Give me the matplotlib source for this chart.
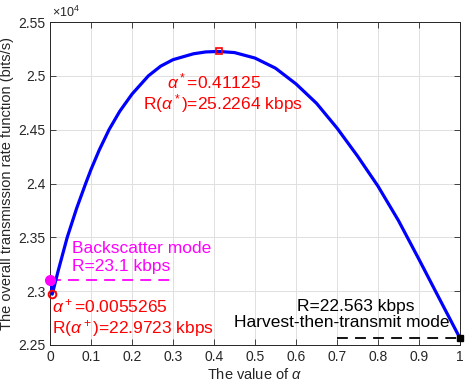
import matplotlib
matplotlib.use("Agg")
import matplotlib.pyplot as plt
from matplotlib.ticker import FuncFormatter

plt.rcParams["font.family"] = ["Liberation Sans", "DejaVu Sans"]
plt.rcParams["mathtext.fontset"] = "custom"
plt.rcParams["mathtext.rm"] = "Liberation Sans"
plt.rcParams["mathtext.it"] = "Liberation Sans:italic"

# rate curve (alpha, bits/s)
alpha = [0.0, 0.0055265, 0.02, 0.042, 0.065, 0.087, 0.1, 0.12, 0.144, 0.17,
         0.2, 0.24, 0.27, 0.3, 0.35, 0.38, 0.41125, 0.45, 0.5, 0.55, 0.6,
         0.65, 0.7, 0.75, 0.8, 0.85, 0.9, 0.95, 1.0]
rate = [23100, 22972.3, 23190, 23500, 23770, 24000, 24130, 24310, 24500, 24670,
        24830, 25000, 25090, 25150, 25205, 25222, 25226.4, 25216, 25165, 25071, 24925,
        24745, 24515, 24255, 23975, 23655, 23295, 22928, 22563]

alpha_opt, rate_opt = 0.41125, 25226.4
alpha_min, rate_min = 0.0055265, 22972.3
rate_bs = 23100      # backscatter mode (alpha = 0)
rate_htt = 22563     # harvest-then-transmit mode (alpha = 1)

xticks = [0, 0.1, 0.2, 0.3, 0.4, 0.5, 0.6, 0.7, 0.8, 0.9, 1]
yticks = [22500, 23000, 23500, 24000, 24500, 25000, 25500]

fig = plt.figure(figsize=(4.74, 3.91), dpi=100)
ax = fig.add_axes([50 / 474, 1 - 345 / 391, 410 / 474, 323 / 391])

ax.plot(alpha, rate, color="#0000ff", lw=2.3, zorder=3, solid_joinstyle="round")

# mode reference lines
ax.plot([0, 0.3], [rate_bs, rate_bs], color="#ff00ff", ls=(0, (6, 4)), lw=1.3)
ax.plot([0.7, 1], [rate_htt, rate_htt], color="black", ls=(0, (6, 4)), lw=1.3)

# special points
ax.plot(alpha_opt, rate_opt, "s", ms=5, mfc="none", mec="red", mew=1.2, zorder=4)
ax.plot(alpha_min, rate_min, "o", ms=5.5, mfc="none", mec="red", mew=1.4,
        zorder=4, clip_on=False)
ax.plot(0, rate_bs, "o", ms=7, color="#ff00ff", zorder=4, clip_on=False)
ax.plot(1, rate_htt, "s", ms=5, color="black", zorder=4, clip_on=False)

fs = 12.5
ax.text(0.40, 24945, r"$\alpha^*$=0.41125", color="red", fontsize=fs,
        ha="center", va="center")
ax.text(0.421, 24747, r"R($\alpha^*$)=25.2264 kbps", color="red", fontsize=fs,
        ha="center", va="center")
ax.text(0.0535, 23398, "Backscatter mode", color="#ff00ff", fontsize=fs,
        ha="left", va="center")
ax.text(0.0535, 23227, "R=23.1 kbps", color="#ff00ff", fontsize=fs,
        ha="left", va="center")
ax.text(0.005, 22856, r"$\alpha^+$=0.0055265", color="red", fontsize=fs,
        ha="left", va="center")
ax.text(0.005, 22655, r"R($\alpha^+$)=22.9723 kbps", color="red", fontsize=fs,
        ha="left", va="center")
ax.text(0.746, 22862, "R=22.563 kbps", color="black", fontsize=fs,
        ha="center", va="center")
ax.text(0.712, 22707, "Harvest-then-transmit mode", color="black", fontsize=fs,
        ha="center", va="center")

ax.set_xlim(0, 1)
ax.set_ylim(22500, 25500)
ax.set_xticks(xticks)
ax.set_yticks(yticks)
ax.xaxis.set_major_formatter(FuncFormatter(lambda v, p: f"{v:g}"))
ax.yaxis.set_major_formatter(FuncFormatter(lambda v, p: f"{v / 1e4:g}"))
ax.text(0.005, 1.005, r"$\times10^{4}$", transform=ax.transAxes, fontsize=9,
        color="#262626", ha="left", va="bottom")

ax.grid(True, color="#e0e0e0", lw=0.7)
ax.set_axisbelow(True)
ax.tick_params(direction="in", top=True, right=True, length=4, width=0.6,
               labelsize=10, colors="#262626")
for s in ax.spines.values():
    s.set_color("#262626")
    s.set_linewidth(0.7)

ax.set_xlabel(r"The value of $\alpha$", fontsize=10.5, color="#262626", labelpad=2)
ax.set_ylabel("The overall transmission rate function (bits/s)", fontsize=10.5,
              color="#262626", labelpad=3)

fig.savefig("out.png", dpi=100)
